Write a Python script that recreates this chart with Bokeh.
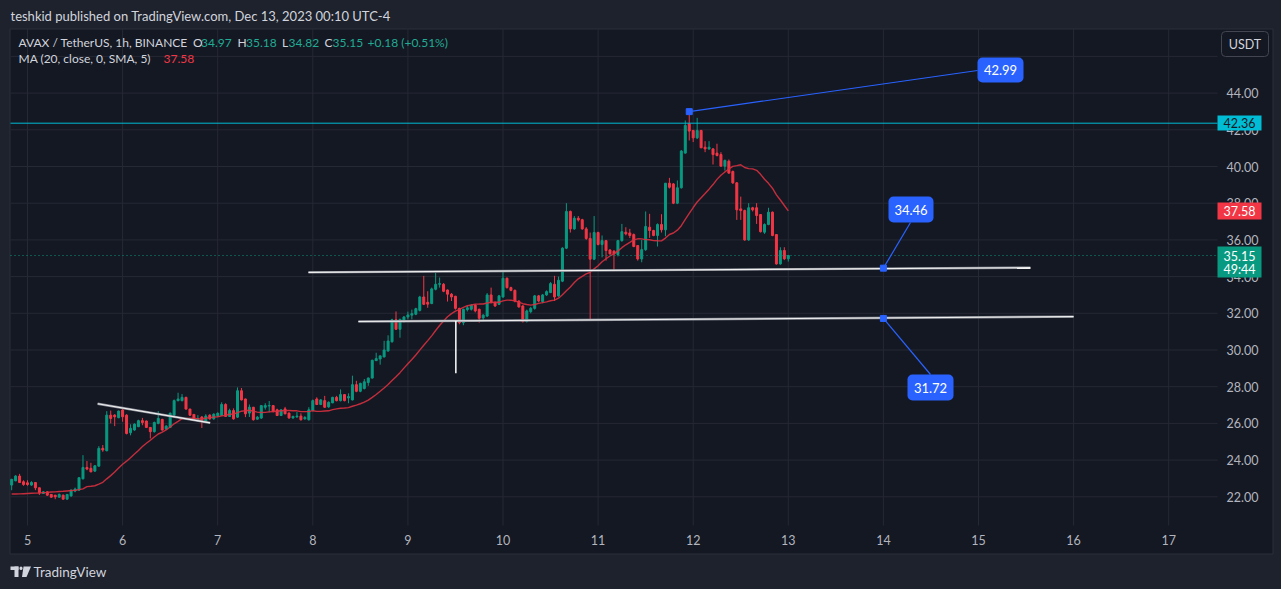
import pandas as pd
from bokeh.plotting import figure
from bokeh.models import (Range1d, FixedTicker, Label, BoxAnnotation,
                          PolyAnnotation, ColumnDataSource)
from bokeh.embed import file_html
from bokeh.resources import INLINE

# ---------------- data (AVAX/USDT 1h, BINANCE) ----------------
first_hour = -4          # hours since Dec 5 00:00 (first candle Dec 4 20:00)
opens = [
    22.64, 22.87, 23.13, 22.82, 22.76, 22.64, 22.78, 22.49, 22.18, 22.27,
    22.13, 22.09, 21.98, 22.09, 21.87, 22.05, 22.31, 22.36, 22.98, 23.60,
    23.55, 23.40, 23.67, 24.64, 24.51, 26.45, 26.45, 26.31, 26.73, 26.45,
    25.49, 25.64, 25.82, 26.15, 26.13, 25.78, 25.55, 26.00, 26.22, 25.69,
    25.78, 26.45, 27.24, 27.24, 27.42, 26.78, 26.49, 26.20, 26.35, 26.10,
    26.45, 26.25, 26.42, 26.43, 27.03, 26.38, 26.70, 26.34, 27.78, 27.33,
    26.56, 26.88, 26.23, 26.29, 26.88, 26.95, 26.97, 26.74, 26.43, 26.79,
    26.56, 26.30, 26.36, 26.40, 26.25, 26.20, 26.70, 27.33, 27.03, 27.24,
    26.90, 27.12, 27.42, 27.24, 27.57, 27.39, 27.28, 28.11, 27.75, 27.90,
    28.23, 28.47, 29.42, 29.51, 29.62, 29.95, 30.45, 31.65, 31.13, 31.60,
    31.80, 31.90, 31.95, 32.16, 32.89, 32.60, 32.53, 33.31, 33.58, 33.58,
    33.27, 33.04, 32.93, 32.27, 31.49, 32.20, 32.22, 32.44, 32.22, 31.75,
    31.85, 33.00, 32.58, 32.49, 32.89, 33.91, 33.40, 33.25, 32.67, 32.40,
    31.55, 32.09, 32.27, 32.95, 32.64, 33.00, 33.13, 33.58, 32.95, 33.75,
    35.55, 37.55, 36.60, 37.18, 37.10, 36.60, 36.08, 34.95, 36.40, 35.75,
    35.96, 35.45, 35.38, 35.20, 35.96, 36.42, 36.38, 36.29, 35.69, 34.96,
    35.47, 36.69, 36.51, 36.24, 36.84, 36.55, 39.09, 39.05, 38.00, 38.84,
    40.73, 42.33, 41.96, 41.56, 41.96, 41.05, 40.96, 40.96, 40.73, 40.65,
    40.02, 40.29, 39.73, 39.11, 37.69, 37.60, 36.00, 37.75, 37.75, 37.38,
    36.42, 36.84, 37.51, 36.29, 34.69, 35.42, 34.97,
]
highs = [
    22.98, 23.18, 23.25, 22.90, 22.90, 22.85, 22.80, 22.50, 22.30, 22.30,
    22.15, 22.10, 22.18, 22.12, 22.15, 22.40, 22.50, 23.06, 24.27, 23.95,
    23.85, 23.72, 24.76, 24.82, 26.67, 26.70, 26.50, 26.70, 26.78, 26.50,
    25.95, 26.00, 26.20, 26.30, 26.15, 25.80, 26.10, 26.67, 26.25, 25.90,
    26.60, 27.30, 27.67, 27.60, 27.45, 26.80, 26.50, 26.45, 26.40, 26.50,
    26.50, 26.55, 26.60, 27.15, 27.10, 26.80, 26.82, 27.96, 27.93, 27.35,
    27.03, 26.90, 26.40, 27.00, 27.10, 27.22, 27.00, 26.80, 26.78, 26.90,
    26.60, 26.42, 26.62, 26.55, 26.40, 26.88, 27.30, 27.42, 27.32, 27.50,
    27.20, 27.45, 27.50, 27.85, 27.60, 27.64, 28.60, 28.32, 28.22, 28.42,
    28.50, 29.47, 29.85, 29.70, 30.50, 30.80, 31.70, 32.10, 31.70, 31.85,
    32.09, 32.20, 32.30, 32.95, 34.04, 33.20, 33.40, 34.20, 33.95, 33.65,
    33.30, 33.10, 32.95, 32.30, 32.25, 32.40, 32.50, 32.50, 32.25, 31.95,
    33.10, 33.40, 32.65, 33.00, 34.25, 33.95, 33.45, 33.30, 32.70, 32.45,
    32.20, 32.35, 33.00, 33.00, 33.05, 33.25, 33.70, 34.04, 34.00, 35.60,
    38.00, 37.60, 37.30, 37.30, 37.15, 36.70, 36.40, 37.30, 36.45, 36.24,
    36.00, 35.50, 35.45, 36.00, 36.87, 36.69, 36.60, 36.35, 35.72, 36.00,
    37.55, 37.42, 36.55, 36.90, 37.40, 39.10, 39.38, 39.10, 39.24, 40.90,
    42.51, 42.99, 42.00, 42.65, 42.00, 41.38, 41.38, 41.00, 41.24, 40.78,
    40.38, 40.38, 39.78, 39.15, 38.36, 37.65, 38.00, 37.80, 38.00, 37.40,
    36.90, 37.75, 37.55, 36.32, 35.60, 35.60, 35.18,
]
lows = [
    22.36, 22.85, 22.75, 22.60, 22.60, 22.60, 22.36, 22.10, 22.15, 22.05,
    21.95, 21.87, 21.95, 21.85, 21.85, 22.00, 22.25, 22.34, 22.95, 23.45,
    23.34, 23.35, 23.65, 24.45, 24.48, 26.00, 25.85, 26.28, 26.09, 25.40,
    25.35, 25.60, 25.80, 25.90, 25.75, 25.18, 25.50, 25.95, 25.60, 25.65,
    25.75, 26.40, 27.20, 27.20, 26.75, 26.40, 26.15, 26.10, 25.75, 26.05,
    26.20, 26.20, 26.35, 26.40, 26.35, 26.35, 26.20, 26.30, 27.25, 26.34,
    26.35, 26.15, 26.20, 26.25, 26.75, 26.60, 26.60, 26.40, 26.40, 26.50,
    26.25, 26.25, 26.30, 26.15, 26.20, 26.15, 26.65, 27.00, 27.00, 26.85,
    26.85, 27.10, 27.20, 27.20, 27.20, 27.10, 27.25, 27.70, 27.70, 27.85,
    28.05, 28.45, 29.40, 29.20, 29.60, 29.90, 30.40, 31.10, 30.67, 31.50,
    31.67, 31.67, 31.90, 32.10, 32.45, 32.30, 32.50, 33.25, 33.40, 33.15,
    32.64, 32.67, 32.20, 31.40, 31.35, 32.10, 32.15, 32.05, 31.49, 31.55,
    31.80, 32.55, 32.35, 32.45, 32.85, 33.35, 33.20, 32.60, 32.30, 31.50,
    31.50, 32.00, 32.20, 32.60, 32.55, 32.95, 33.10, 32.67, 32.90, 33.70,
    35.50, 36.40, 36.55, 37.00, 36.55, 36.00, 31.60, 34.90, 35.70, 35.05,
    34.87, 35.20, 34.30, 35.10, 35.90, 36.25, 36.10, 35.60, 34.87, 34.78,
    35.40, 36.11, 36.20, 35.64, 36.40, 36.20, 38.80, 37.95, 37.95, 38.80,
    40.70, 41.42, 41.33, 41.50, 41.00, 40.78, 40.90, 40.11, 40.55, 40.00,
    39.78, 39.60, 39.05, 37.09, 37.09, 35.95, 35.95, 37.55, 36.87, 36.40,
    36.33, 36.80, 36.20, 34.65, 34.65, 34.90, 34.82,
]
closes = [
    22.95, 23.13, 22.78, 22.67, 22.67, 22.78, 22.49, 22.22, 22.27, 22.09,
    21.98, 22.00, 22.13, 21.87, 22.13, 22.36, 22.42, 23.04, 23.60, 23.51,
    23.36, 23.69, 24.64, 24.55, 26.45, 26.27, 26.36, 26.67, 26.36, 25.45,
    25.73, 25.96, 26.15, 26.05, 25.78, 25.55, 26.05, 26.27, 25.64, 25.85,
    26.55, 27.24, 27.33, 27.42, 26.78, 26.45, 26.18, 26.27, 26.10, 26.40,
    26.25, 26.50, 26.55, 27.03, 26.38, 26.70, 26.25, 27.78, 27.28, 26.52,
    26.88, 26.20, 26.34, 26.97, 26.97, 26.97, 26.67, 26.43, 26.74, 26.52,
    26.30, 26.38, 26.40, 26.20, 26.32, 26.74, 27.24, 27.03, 27.28, 26.88,
    27.15, 27.42, 27.24, 27.57, 27.24, 27.46, 28.11, 27.75, 28.18, 28.27,
    28.47, 29.44, 29.53, 29.68, 30.00, 30.49, 31.65, 31.13, 31.67, 31.80,
    31.91, 31.98, 32.25, 32.89, 32.49, 32.50, 33.33, 33.58, 33.62, 33.20,
    33.04, 32.89, 32.27, 31.49, 32.22, 32.30, 32.44, 32.13, 31.73, 31.90,
    33.00, 32.58, 32.40, 32.95, 33.91, 33.40, 33.25, 32.67, 32.35, 31.55,
    32.13, 32.27, 32.95, 32.67, 33.00, 33.18, 33.62, 32.89, 33.80, 35.55,
    37.55, 36.60, 37.18, 37.09, 36.60, 36.08, 34.95, 36.40, 35.75, 35.96,
    35.42, 35.24, 35.24, 35.96, 36.45, 36.33, 36.24, 35.64, 34.96, 35.47,
    36.73, 36.51, 36.24, 36.84, 36.55, 39.09, 38.87, 38.00, 38.84, 40.84,
    42.24, 41.93, 41.56, 41.96, 41.02, 40.96, 41.05, 40.65, 40.60, 40.02,
    40.33, 39.64, 39.11, 37.64, 37.60, 36.00, 37.75, 37.64, 37.33, 36.45,
    36.84, 37.51, 36.24, 34.69, 35.42, 34.97, 35.15,
]
# MA values visible before 20 candles are available on screen
ma_head = [22.15, 22.15, 22.16, 22.17, 22.18, 22.19, 22.20, 22.21, 22.23, 22.24,
           22.26, 22.27, 22.29, 22.30, 22.32, 22.34, 22.36, 22.39, 22.43]
ma_period = 20

day_hours = [0, 24, 48, 72, 96, 120, 144, 168, 192, 216, 240, 264, 288]
day_labels = ["5", "6", "7", "8", "9", "10", "11", "12", "13", "14", "15", "16", "17"]
price_ticks = [22, 24, 26, 28, 30, 32, 34, 36, 38, 40, 42, 44, 46]

last_price = 35.15
ma_last = 37.58
resistance = 42.36
callout_values = [42.99, 34.46, 31.72]
callout_hours = [167, 216, 216]
upper_line_h = [70.9, 253.1]
upper_line_p = [34.23, 34.49]
lower_line_h = [83.5, 264.0]
lower_line_p = [31.55, 31.82]
wedge_h = [17.7, 46.1]
wedge_p = [27.07, 26.03]
spike_h = [108.1, 108.1]
spike_p = [31.58, 28.73]

# ---------------- styling ----------------
OUTER = "#1e222d"
PANEL = "#141823"
GRID = "#252934"
TXT = "#d1d4dc"
AX = "#b2b5be"
GREEN = "#089981"
RED = "#f23645"
BLUE = "#2962ff"
FONT = "Lato"
LEG = "12px"

W, H = 1281, 589
PX_PER_H = 3.9625
PX_PER_P = 18.35


def px2h(px):
    return (px - 27) / PX_PER_H


def py2p(py):
    return 42 - (py - 129.3) / PX_PER_P


# plot area (page pixels): x 10..1217, y 28..525
H_L, H_R = px2h(10), px2h(1217)
P_T, P_B = py2p(28), py2p(525)

p = figure(width=W, height=H, x_range=Range1d(px2h(0), px2h(W)),
           y_range=Range1d(py2p(H), py2p(0)),
           output_backend="svg", toolbar_location=None, y_axis_location="right",
           min_border=0, min_border_left=0, min_border_right=0,
           min_border_top=0, min_border_bottom=0,
           background_fill_color=OUTER, border_fill_color=OUTER, outline_line_color=None)
p.title.visible = False


def B(l, t, r, b, fill, line=None, radius=0, level="annotation", lw=1):
    p.add_layout(BoxAnnotation(left=l, right=r, top=H - t, bottom=H - b,
                               left_units="screen", right_units="screen",
                               top_units="screen", bottom_units="screen",
                               fill_color=fill, fill_alpha=1, line_color=line, line_alpha=1,
                               line_width=lw, border_radius=radius, level=level))


def T(px, py, text, color, size="12.5px", align="left", style="normal"):
    p.add_layout(Label(x=px, y=H - py, x_units="screen", y_units="screen",
                       text=text, text_color=color, text_font=FONT, text_font_size=size,
                       text_align=align, text_baseline="middle", text_font_style=style))


# dark chart panel incl. axes area
B(9.5, 28.5, 1272.5, 553.5, PANEL, line="#2a2e39", level="image")

# axes drawn at fixed positions inside the canvas
p.xaxis.fixed_location = P_B
p.yaxis.fixed_location = H_R
p.xaxis.ticker = FixedTicker(ticks=day_hours)
p.xaxis.major_label_overrides = {h: l for h, l in zip(day_hours, day_labels)}
p.yaxis.ticker = FixedTicker(ticks=price_ticks)
p.yaxis.major_label_overrides = {t: ("" if t == 46 else f"{t:.2f}") for t in price_ticks}
for ax in (p.xaxis[0], p.yaxis[0]):
    ax.axis_line_color = None
    ax.major_tick_line_color = None
    ax.minor_tick_line_color = None
    ax.major_tick_out = 0
    ax.major_tick_in = 0
    ax.major_label_text_color = AX
    ax.major_label_text_font = FONT
    ax.major_label_text_font_size = "12.5px"
    ax.major_label_standoff = 9
p.grid.visible = False

# grid lines limited to plot area
p.segment(x0=day_hours, y0=[P_B] * len(day_hours), x1=day_hours, y1=[P_T] * len(day_hours),
          line_color=GRID, line_width=1)
p.segment(x0=[H_L] * len(price_ticks), y0=price_ticks, x1=[H_R] * len(price_ticks),
          y1=price_ticks, line_color=GRID, line_width=1)

# candles
hours = list(range(first_hour, first_hour + len(closes)))
colors = [GREEN if c >= o else RED for o, c in zip(opens, closes)]
src = ColumnDataSource(dict(h=hours, lo=lows, hi=highs,
                            top=[max(o, c) for o, c in zip(opens, closes)],
                            bot=[min(o, c) for o, c in zip(opens, closes)],
                            col=colors))
p.segment(x0="h", y0="lo", x1="h", y1="hi", line_color="col", line_width=1, source=src)
p.vbar(x="h", width=0.5, top="top", bottom="bot", fill_color="col", line_color="col",
       line_width=1, source=src)

# moving average (SMA 20 of closes)
ma = pd.Series(closes).rolling(ma_period).mean().tolist()
ma[:ma_period - 1] = ma_head
p.line(hours, ma, line_color="#d7303f", line_width=1.4, line_alpha=0.9)

# horizontal price lines
p.segment(x0=[H_L], y0=[resistance], x1=[H_R], y1=[resistance], line_color="#00bcd4",
          line_width=1)
p.segment(x0=[H_L], y0=[last_price], x1=[H_R], y1=[last_price], line_color=GREEN,
          line_width=1, line_dash="1 3")

# user drawings
for hx, py in ((upper_line_h, upper_line_p), (lower_line_h, lower_line_p)):
    p.line(hx, py, line_color="#8a8d96", line_width=2.4)
    p.line(hx, py, line_color="#f0f0f0", line_width=1.1)
p.line(wedge_h, wedge_p, line_color="#8a8d96", line_width=2.4)
p.line(wedge_h, wedge_p, line_color="#f0f0f0", line_width=1.1)
p.line(spike_h, spike_p, line_color="#ffffff", line_width=1.5)

# callouts
callout_ends = [(977, 70), (910, 222), (930, 374)]
callout_boxes = [(977, 57, 1023, 82), (888, 196, 933, 222), (907, 374, 953, 400)]
p.segment(x0=callout_hours, y0=callout_values,
          x1=[px2h(e[0]) for e in callout_ends], y1=[py2p(e[1]) for e in callout_ends],
          line_color=BLUE, line_width=1.2)
p.scatter(x=callout_hours, y=callout_values, marker="square", size=6,
          fill_color=BLUE, line_color=BLUE)
for (l, t, r, b), v in zip(callout_boxes, callout_values):
    B(l, t, r, b, BLUE, radius=5)
    T((l + r) / 2, (t + b) / 2, f"{v:.2f}", "#ffffff", size="13px", align="center")

# price-axis tags
B(1221, 31, 1268, 56, PANEL, line="#434651", radius=4)
T(1244.5, 43.5, "USDT", TXT, align="center")
B(1217, 115, 1261, 130, "#00bcd4")
T(1239, 122.7, f"{resistance:.2f}", "#131722", align="center")
B(1217, 202, 1261, 219, RED)
T(1239, 210.5, f"{ma_last:.2f}", "#ffffff", align="center")
B(1217, 246, 1261, 277, GREEN)
T(1239, 255, f"{last_price:.2f}", "#ffffff", align="center")
T(1239, 269, "49:44", "#ffffff", align="center")

# header / legend
T(10, 15, "teshkid published on TradingView.com, Dec 13, 2023 00:10 UTC-4", TXT, size="13px")
T(18, 42, "AVAX / TetherUS, 1h, BINANCE", TXT, size=LEG)
T(192.5, 42, "O", TXT, size=LEG); T(200.5, 42, "34.97", "#22ab94", size=LEG)
T(237, 42, "H", TXT, size=LEG); T(245.5, 42, "35.18", "#22ab94", size=LEG)
T(281.5, 42, "L", TXT, size=LEG); T(288, 42, "34.82", "#22ab94", size=LEG)
T(324, 42, "C", TXT, size=LEG); T(332, 42, "35.15", "#22ab94", size=LEG)
T(367, 42, "+0.18 (+0.51%)", "#22ab94", size=LEG)
T(18, 58, "MA (20, close, 0, SMA, 5)", TXT, size=LEG)
T(163, 58, f"{ma_last:.2f}", RED, size=LEG)

# footer logo
B(10, 566, 18, 569.5, TXT)
B(14, 566, 18, 576.5, TXT)
B(19, 566, 22, 569.5, TXT, radius=2)
p.add_layout(PolyAnnotation(xs=[23, 30.5, 26, 21.5],
                            ys=[H - 566, H - 566, H - 576.5, H - 576.5],
                            xs_units="screen", ys_units="screen",
                            fill_color=TXT, fill_alpha=1, line_color=None))
T(33, 571.5, "TradingView", TXT, size="13.5px")

html = file_html(p, INLINE, title="AVAX / TetherUS")
html = html.replace("<head>", "<head><style>html,body{background:%s;}</style>" % OUTER, 1)
open("out.html", "w").write(html)
